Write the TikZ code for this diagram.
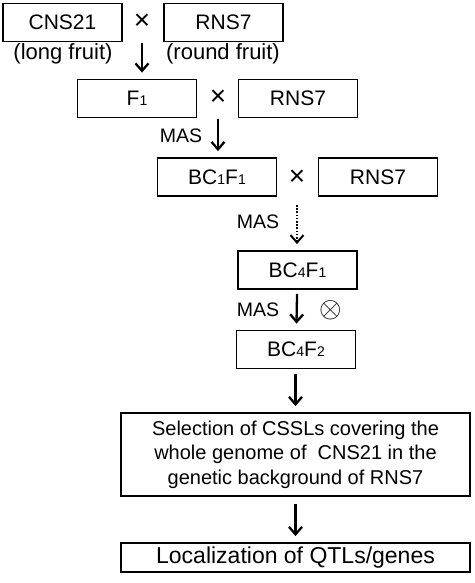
\documentclass[tikz,border=0pt]{standalone}
\usepackage{fontspec}
\setmainfont{Liberation Sans}
\usetikzlibrary{arrows.meta}
\newcommand\gsub[1]{{\fontsize{14}{14}\selectfont #1}}

\begin{document}
\begin{tikzpicture}[x=1pt,y=-1pt,>={Straight Barb[length=7.5pt,width=13pt]},node distance=161pt,
    gen node/.style={draw,line width=1.8pt,minimum width=119pt,minimum height=38pt,inner sep=0pt,font=\fontsize{21}{24.5}\selectfont},
    cross node/.style={inner sep=0pt,font=\fontsize{28}{28}\selectfont},
    note node/.style={inner sep=0pt,font=\fontsize{22}{24}\selectfont},
    mas node/.style={inner sep=0pt,font=\fontsize{19.5}{20}\selectfont},
    flow/.style={->,line width=2.3pt,shorten <=5pt,shorten >=6pt}]

            \useasboundingbox (0,0) rectangle (474,583);

            \node[gen node] (1) at (62.5,22.5) {CNS21};
            \node[gen node] (2) [right of = 1] {RNS7};
            \node[cross node] (x1) at (142,22) {×};
            \node[note node] (l1) at (63,54) {(long fruit)};
            \node[note node] (l2) at (223,54) {(round fruit)};

            \node[gen node] (3) at (137,98.5) {F\gsub{1}};
            \node[gen node] (4) [right of = 3] {RNS7};
            \node[cross node] (x2) at (218,98) {×};
            \node[mas node] (m1) at (181,136) {MAS};

            \node[gen node] (5) at (217,177) {BC\gsub{1}F\gsub{1}};
            \node[gen node] (6) [right of = 5] {RNS7};
            \node[cross node] (x3) at (297,178) {×};
            \node[mas node] (m2) at (258,222) {MAS};

            \node[gen node] (7) at (297.5,270) {BC\gsub{4}F\gsub{1}};
            \node[mas node] (m3) at (258,310) {MAS};
            \node[inner sep=0pt] (s1) at (331,310) {\scalebox{2.9}{$\otimes$}};

            \node[gen node] (8) at (296,349.5) {BC\gsub{4}F\gsub{2}};
            \node[gen node,minimum width=349pt,minimum height=83pt,align=center,font=\fontsize{20}{24.5}\selectfont] (9) at (295.5,454.5)
                {Selection of CSSLs covering the\\whole genome of \ CNS21 in the\\genetic background of RNS7};
            \node[gen node,minimum width=349pt,minimum height=29pt,font=\fontsize{23}{24}\selectfont] (10) at (295.5,557.5) {Localization of QTLs/genes};

            \draw[flow,shorten <=1pt] (x1 |- 1.south) to (x1 |- 3.north);
            \draw[flow,shorten <=1pt] (x2 |- 3.south) to (x2 |- 5.north);
            \draw[flow,line width=2pt,dash pattern=on 1.6pt off 1.6pt,shorten <=8pt] (x3 |- 5.south) to (x3 |- 7.north);
            \draw[flow,shorten <=4pt] (7) to (8);
            \draw[flow] (8.south -| 9) to (9);
            \draw[flow,shorten <=7pt] (9) to (10);

        \end{tikzpicture}
\end{document}
